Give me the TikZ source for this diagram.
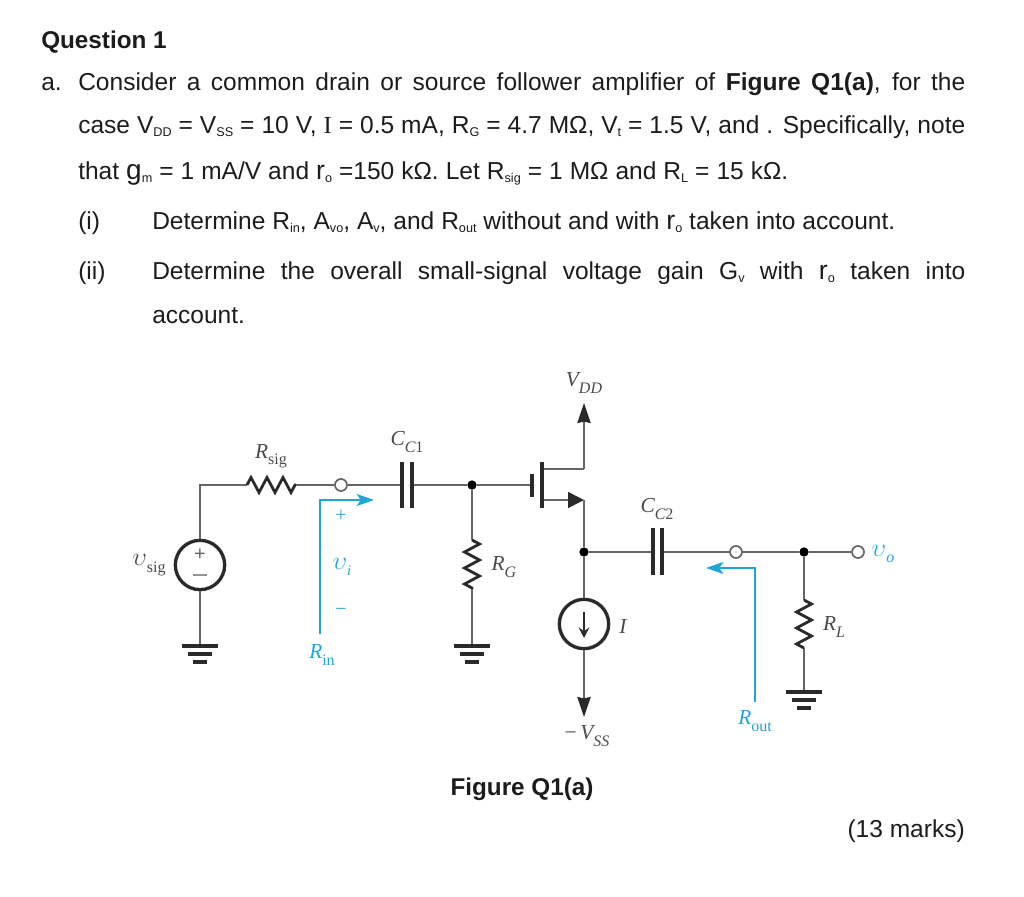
\documentclass[tikz,border=0pt]{standalone}
\usepackage{fontspec}
\setmainfont{Liberation Sans}
\newfontfamily\lab{Liberation Serif}
\usetikzlibrary{arrows.meta,decorations.pathmorphing,calc}
\definecolor{wirec}{HTML}{666666}
\definecolor{heavyc}{HTML}{2A2A2A}
\definecolor{labc}{HTML}{4A4A4A}
\definecolor{bluec}{HTML}{1FA5D6}
\definecolor{inkc}{HTML}{1C1C1C}
\newcommand{\dn}[1]{\raisebox{-0.16em}{\fontsize{9.5}{10}\selectfont #1}}
\newcommand{\cl}[2]{{\lab\itshape #1}\raisebox{-0.3em}{\fontsize{12}{12}\selectfont\lab #2}}
\newcommand{\ci}[2]{{\lab\itshape #1}\raisebox{-0.3em}{\fontsize{12}{12}\selectfont\lab\itshape #2}}
\newcommand{\up}{\scalebox{1.12}{$\upsilon$}}
\tikzset{
  x=0.75pt,y=-0.75pt,
  txt/.style={anchor=base west,inner sep=0pt,text=inkc,font=\fontsize{18.4}{22}\selectfont},
  lbl/.style={inner sep=0pt,text=labc,font=\fontsize{16}{18}\selectfont},
  blbl/.style={inner sep=0pt,text=bluec,font=\fontsize{16}{18}\selectfont},
  wire/.style={draw=wirec,line width=1.1pt},
  heavy/.style={draw=heavyc,line width=2.8pt},
  res/.style={draw=heavyc,line width=2.1pt,line join=miter,decorate,decoration={zigzag,segment length=12pt,amplitude=5.6pt}},
  bwire/.style={draw=bluec,line width=1.5pt},
  barrow/.style={bwire,-{Stealth[length=13pt,width=9pt,inset=3pt]}},
  harrow/.style={wire,-{Stealth[length=15pt,width=10pt,inset=1pt,color=heavyc]}},
  open/.style={circle,draw=wirec,line width=1.3pt,fill=white,inner sep=0pt,minimum size=9pt},
  dot/.style={circle,fill=black,inner sep=0pt,minimum size=7pt},
  src/.style={circle,draw=heavyc,line width=2.5pt,fill=white,inner sep=0pt,minimum size=37pt},
  gnd/.pic={
    \draw[draw=heavyc,line width=3pt] (-18,0) -- (18,0);
    \draw[draw=heavyc,line width=3pt] (-12,8) -- (12,8);
    \draw[draw=heavyc,line width=3pt] (-7,16) -- (7,16);
  }
}
\begin{document}
\begin{tikzpicture}
\useasboundingbox (0,0) rectangle (1024,896);
% text
\node[txt,font=\fontsize{18.2}{22}\selectfont\bfseries] (q) at (41,48) {Question 1};
\node[txt] (a) at (41,90) {a.};
\node[txt] (l1) at (78,90) {\makebox[665.25pt][s]{Consider a common drain or source follower amplifier of \textbf{Figure Q1(a)}, for the}};
\node[txt] (l2) at (78,133) {\makebox[665.25pt][s]{case V\dn{DD} = V\dn{SS} = 10 V, {\lab I} = 0.5 mA, R\dn{G} = 4.7 MΩ, V\dn{t} = 1.5 V, and . Specifically, note}};
\node[txt] (l3) at (78,179) {\makebox[532.5pt][s]{that {\fontsize{21}{22}\selectfont g}\dn{m} = 1 mA/V and {\fontsize{20}{22}\selectfont r}\dn{o} =150 kΩ. Let R\dn{sig} = 1 MΩ and R\dn{L} = 15 kΩ.}};
\node[txt] (i) at (78,229) {(i)};
\node[txt] (l4) at (152,229) {\makebox[557.25pt][s]{Determine R\dn{in}, A\dn{vo}, A\dn{v}, and R\dn{out} without and with {\fontsize{20}{22}\selectfont r}\dn{o} taken into account.}};
\node[txt] (ii) at (78,279) {(ii)};
\node[txt] (l5) at (152,279) {\makebox[609.75pt][s]{Determine the overall small-signal voltage gain G\dn{v} with {\fontsize{20}{22}\selectfont r}\dn{o} taken into}};
\node[txt] (l6) at (152,323) {account.};
\node[txt,font=\fontsize{18.2}{22}\selectfont\bfseries,anchor=base] (fig) at (522,795) {Figure Q1(a)};
\node[txt,anchor=base east] (m) at (965,837) {(13 marks)};
% coordinates
\coordinate (tl) at (200,485);
\coordinate (r1a) at (247,485);
\coordinate (r1b) at (296,485);
\node[open] (o1) at (341,485) {};
\coordinate (c1a) at (402,485);
\coordinate (c1b) at (412,485);
\node[dot] (j1) at (472,485) {};
\coordinate (g) at (532,485);
\coordinate (r2a) at (472,540);
\coordinate (r2b) at (472,589);
\coordinate (g1) at (200,646);
\coordinate (g2) at (472,646);
\node[src] (vs) at (200,565) {};
\coordinate (dr) at (542,469);
\coordinate (dc) at (584,469);
\coordinate (vdd) at (584,403);
\coordinate (sr) at (542,500);
\coordinate (sc) at (584,500);
\node[dot] (j2) at (584,552) {};
\coordinate (c2a) at (653,552);
\coordinate (c2b) at (662,552);
\node[open] (o2) at (736,552) {};
\node[dot] (j3) at (804,552) {};
\node[open] (o3) at (858,552) {};
\coordinate (r3a) at (804,600);
\coordinate (r3b) at (804,648);
\coordinate (g3) at (804,692);
\node[src] (is) at (584,624) {};
\coordinate (vss) at (584,717);
% wires
\draw[wire] (vs) -- (tl) -- (r1a);
\draw[wire] (r1b) -- (o1);
\draw[wire] (o1) -- (c1a);
\draw[wire] (c1b) -- (j1);
\draw[wire] (j1) -- (g);
\draw[wire] (j1) -- (r2a);
\draw[wire] (r2b) -- (g2);
\draw[wire] (vs) -- (g1);
\draw[wire] (dr) -- (dc);
\draw[harrow] (dc) -- (vdd);
\draw[wire,-{Stealth[length=12pt,width=12pt,inset=0pt,color=heavyc]}] (sr) -- (sc);
\draw[wire] (sc) -- (j2);
\draw[wire] (j2) -- (c2a);
\draw[wire] (c2b) -- (o2);
\draw[wire] (o2) -- (j3);
\draw[wire] (j3) -- (o3);
\draw[wire] (j3) -- (r3a);
\draw[wire] (r3b) -- (g3);
\draw[wire] (j2) -- (is);
\draw[harrow] (is) -- (vss);
% parts
\draw[res] (r1a) -- (r1b);
\draw[res] (r2a) -- (r2b);
\draw[res] (r3a) -- (r3b);
\draw[heavy] ($(c1a)+(0,-23)$) -- ($(c1a)+(0,23)$);
\draw[heavy] ($(c1b)+(0,-23)$) -- ($(c1b)+(0,23)$);
\draw[heavy] ($(c2a)+(0,-24)$) -- ($(c2a)+(0,23)$);
\draw[heavy] ($(c2b)+(0,-24)$) -- ($(c2b)+(0,23)$);
\draw[heavy] ($(g)+(0,-11)$) -- ($(g)+(0,12)$);
\draw[heavy] (542,462) -- (542,508);
\pic at (g1) {gnd};
\pic at (g2) {gnd};
\pic at (g3) {gnd};
% source interiors
\node[lbl,text=wirec,font=\fontsize{15}{15}\selectfont] (vp) at (200,555) {+};
\draw[wire,draw=wirec!70] (193,575) -- (207,575);
\coordinate (ia) at (584,612);
\coordinate (ib) at (584,638);
\draw[draw=heavyc,line width=1.2pt,-{Stealth[length=8pt,width=8pt,inset=3pt]}] (ia) -- (ib);
% blue
\coordinate (b1) at (320,634);
\coordinate (b2) at (320,500);
\coordinate (b3) at (374,500);
\draw[barrow] (b1) -- (b2) -- (b3);
\coordinate (b4) at (755,702);
\coordinate (b5) at (755,568);
\coordinate (b6) at (706,568);
\draw[barrow] (b4) -- (b5) -- (b6);
\node[blbl,font=\fontsize{15}{15}\selectfont\lab] (bp) at (341,516) {+};
\node[blbl,font=\fontsize{15}{15}\selectfont\lab] (bm) at (341,612) {−};
\node[blbl] (vi) at (342,567) {\up\raisebox{-0.3em}{\fontsize{11}{11}\selectfont\lab\itshape i}};
\node[blbl] (rin) at (322,655) {\cl{R}{in}};
\node[blbl] (rout) at (755,721) {\cl{R}{out}};
\node[blbl] (vo) at (883,554) {\up\raisebox{-0.3em}{\fontsize{12}{12}\selectfont\lab\itshape o}};
% labels
\node[lbl] (lrs) at (271,456) {\cl{R}{sig}};
\node[lbl] (lc1) at (407,442) {\ci{C}{C}\raisebox{-0.3em}{\fontsize{12}{12}\selectfont\lab 1}};
\node[lbl] (lvs) at (149,565) {\up\raisebox{-0.3em}{\fontsize{12}{12}\selectfont\lab sig}};
\node[lbl] (lrg) at (504,567) {\ci{R}{G}};
\node[lbl] (lvd) at (584,383) {\ci{V}{DD}};
\node[lbl] (lc2) at (657,509) {\ci{C}{C}\raisebox{-0.3em}{\fontsize{12}{12}\selectfont\lab 2}};
\node[lbl] (lrl) at (834,627) {\ci{R}{L}};
\node[lbl] (li) at (623,627) {{\lab\itshape I}};
\node[lbl] (lvss) at (587,736) {{\lab −}\,\ci{V}{SS}};
\end{tikzpicture}
\end{document}
